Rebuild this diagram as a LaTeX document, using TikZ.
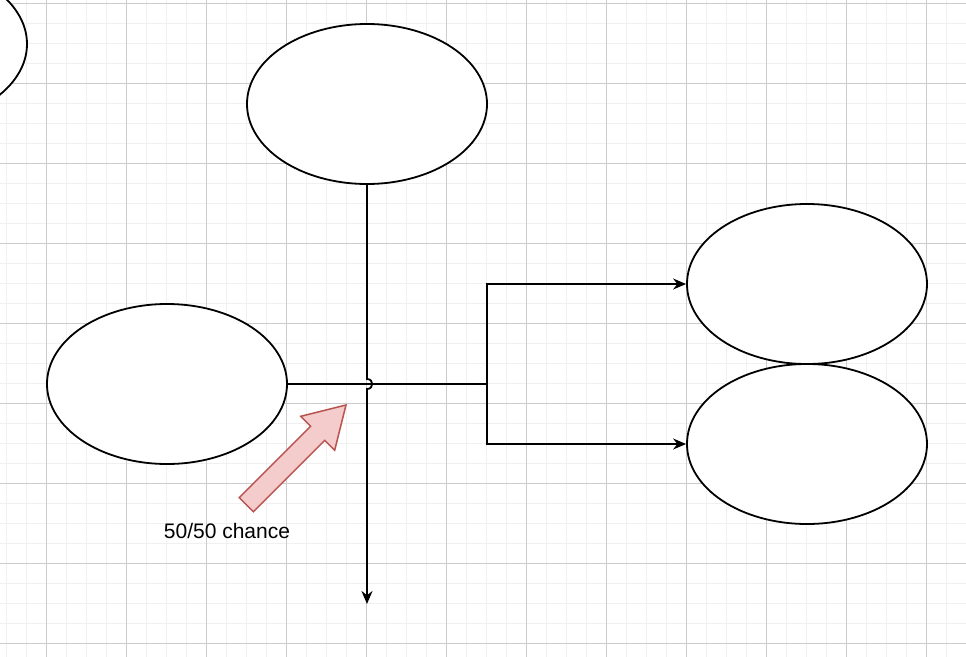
\documentclass[tikz,border=0pt]{standalone}
\usepackage{fontspec}
\setmainfont{Liberation Sans}
\usetikzlibrary{shapes.geometric,arrows.meta}
\begin{document}
\begin{tikzpicture}[x=1pt,y=-1pt,
  ell/.style={draw=black,line width=1.8pt,fill=white,ellipse,minimum width=240pt,minimum height=160pt,inner sep=0pt},
  conn/.style={line width=1.8pt,-{Stealth[length=13pt,width=11pt]}}]
\useasboundingbox (0,0) rectangle (966,656);
\clip (0,0) rectangle (966,656);
\fill[white] (0,0) rectangle (966,656);
\draw[step=20pt,shift={(6.7pt,-3.3pt)},draw=black!6,line width=0.9pt] (-20,-20) grid (980,680);
\draw[step=80pt,shift={(46.7pt,-3.3pt)},draw=black!20,line width=0.9pt] (-80,-80) grid (1040,720);
\node[ell] (tl) at (-93,44) {};
\node[ell] (top) at (367,104) {};
\node[ell] (left) at (167,384) {};
\node[ell] (r1) at (807,284) {};
\node[ell] (r2) at (807,444) {};
\coordinate (end) at (367,604);
\coordinate (j) at (487,384);
\draw[conn] (top.south) -- (367,379) .. controls (374,379) and (374,389) .. (367,389) -- (end);
\draw[line width=1.8pt] (left.east) -- (j);
\draw[conn] (j) |- (r1.west);
\draw[conn] (j) |- (r2.west);
\begin{scope}[shift={(346,405)},rotate=45]
\draw[fill={rgb,255:red,244;green,204;blue,204},draw={rgb,255:red,184;green,84;blue,80},line width=1.5pt,line join=miter]
 (0,0) -- (-40,-24) -- (-40,-10) -- (-141,-10) -- (-141,10) -- (-40,10) -- (-40,24) -- cycle;
\end{scope}
\node[font=\fontsize{21pt}{25pt}\selectfont] (lbl) at (227,531) {50/50 chance};
\end{tikzpicture}
\end{document}
